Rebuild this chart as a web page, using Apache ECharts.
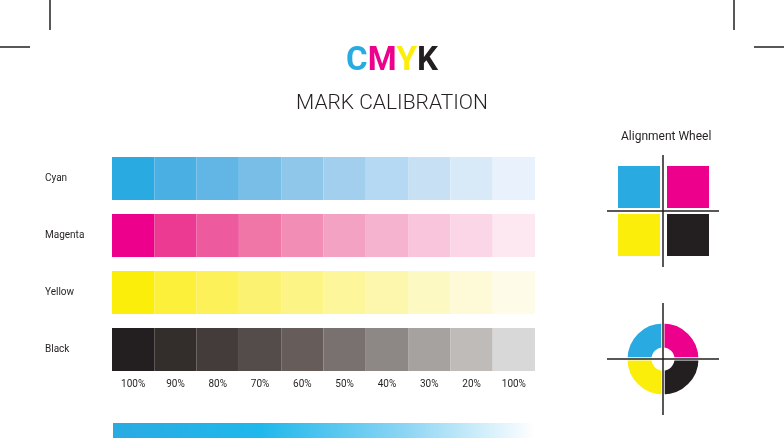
<!DOCTYPE html>
<html>
<head>
<meta charset="utf-8">
<script src="https://cdn.jsdelivr.net/npm/echarts@6/dist/echarts.min.js"></script>
<style>html,body{margin:0;padding:0;background:#fff}#main{width:784px;height:441px}</style>
</head>
<body>
<div id="main"></div>
<script>
// data
var inks = ['Cyan', 'Magenta', 'Yellow', 'Black'];
var tintLabels = ['100%', '90%', '80%', '70%', '60%', '50%', '40%', '30%', '20%', '100%'];
var tints = [100, 90, 80, 70, 60, 50, 40, 30, 20, 10];
var cyanColors = ['#29abe2', '#4aafe3', '#62b6e5', '#78bee7', '#8fc7ea', '#a3cfee', '#b5d9f2', '#c8e0f4', '#d8e9f8', '#e9f2fc'];
var magentaColors = ['#ec008c', '#ec3a93', '#ee5a9e', '#f076a8', '#f28db6', '#f4a2c3', '#f6b3cf', '#f8c5dc', '#fad6e6', '#fde8f1'];
var yellowColors = ['#fbee0a', '#fcf03a', '#fcf159', '#fcf271', '#fdf486', '#fdf69a', '#fdf7ae', '#fdf9c3', '#fefad7', '#fefce8'];
var blackColors = ['#231f20', '#332d2b', '#433c3a', '#534c4a', '#665d5b', '#79716f', '#8d8886', '#a6a2a0', '#bfbbb9', '#d9d8d8'];
var wheelInks = ['Cyan', 'Magenta', 'Black', 'Yellow'];
var wheelColors = ['#29abe2', '#ec008c', '#231f20', '#fbee0a'];

var rowColors = [cyanColors, magentaColors, yellowColors, blackColors];

var series = tints.map(function (t, i) {
    return {
        type: 'bar',
        stack: 'strip',
        barWidth: 43,
        silent: true,
        data: inks.map(function (ink, r) {
            return {value: 1, itemStyle: {color: rowColors[r][i]}};
        })
    };
});

series.push({
    type: 'pie',
    center: [663, 359],
    radius: [10, 37],
    startAngle: 180,
    silent: true,
    label: {show: false},
    itemStyle: {borderColor: '#fff', borderWidth: 3},
    data: wheelInks.map(function (n, i) {
        return {name: n, value: 1, itemStyle: {color: wheelColors[i]}};
    })
});

var ink = '#231f20';
function line(x1, y1, x2, y2) {
    return {type: 'line', shape: {x1: x1, y1: y1, x2: x2, y2: y2}, style: {stroke: ink, lineWidth: 1.5}, z: 10};
}
function box(x, y, c) {
    return {type: 'rect', shape: {x: x, y: y, width: 42, height: 42}, style: {fill: c}};
}

var letter = function (c) {
    return {color: c, fontSize: 33, fontWeight: 'bold', fontFamily: 'Roboto'};
};

var myChart = echarts.init(document.getElementById('main'));
myChart.setOption({
    animation: false,
    title: [{
        text: '{c|C}{m|M}{y|Y}{k|K}',
        left: 'center', top: 40,
        textStyle: {rich: {c: letter('#29abe2'), m: letter('#ec008c'), y: letter('#fbee0a'), k: letter('#231f20')}}
    }, {
        text: 'MARK CALIBRATION',
        left: 'center', top: 88,
        textStyle: {color: '#231f20', fontSize: 21, fontWeight: 300, fontFamily: 'Roboto'}
    }, {
        text: 'Alignment Wheel',
        left: 616, top: 126,
        textStyle: {color: '#231f20', fontSize: 12, fontWeight: 'normal', fontFamily: 'Roboto'}
    }],
    grid: {left: 112, width: 423, top: 150, height: 228},
    xAxis: [{
        type: 'value', min: 0, max: 10, show: false
    }, {
        type: 'category', data: tintLabels, position: 'bottom',
        axisLine: {show: false}, axisTick: {show: false}, splitLine: {show: false},
        axisLabel: {color: '#231f20', fontSize: 10, fontFamily: 'Roboto', margin: 1}
    }],
    yAxis: {
        type: 'category', data: inks, inverse: true,
        axisLine: {show: false}, axisTick: {show: false},
        axisLabel: {align: 'left', margin: 67, color: '#231f20', fontSize: 10, fontFamily: 'Roboto'}
    },
    series: series,
    graphic: [
        line(50, 0, 50, 30), line(734, 0, 734, 30),
        line(0, 47, 30, 47), line(754, 47, 784, 47),
        box(618, 166, '#29abe2'), box(667, 166, '#ec008c'),
        box(618, 214, '#fbee0a'), box(667, 214, '#231f20'),
        line(663, 155, 663, 267), line(607, 211, 719, 211),
        line(663, 303, 663, 415), line(607, 359, 719, 359),
        {type: 'rect', shape: {x: 113, y: 423, width: 422, height: 15},
         style: {fill: new echarts.graphic.LinearGradient(0, 0, 1, 0, [
             {offset: 0, color: '#29abe2'}, {offset: 0.35, color: '#1fb8ec'},
             {offset: 0.7, color: '#8fd6f4'}, {offset: 1, color: '#ffffff'}])}}
    ]
});
</script>
</body>
</html>
